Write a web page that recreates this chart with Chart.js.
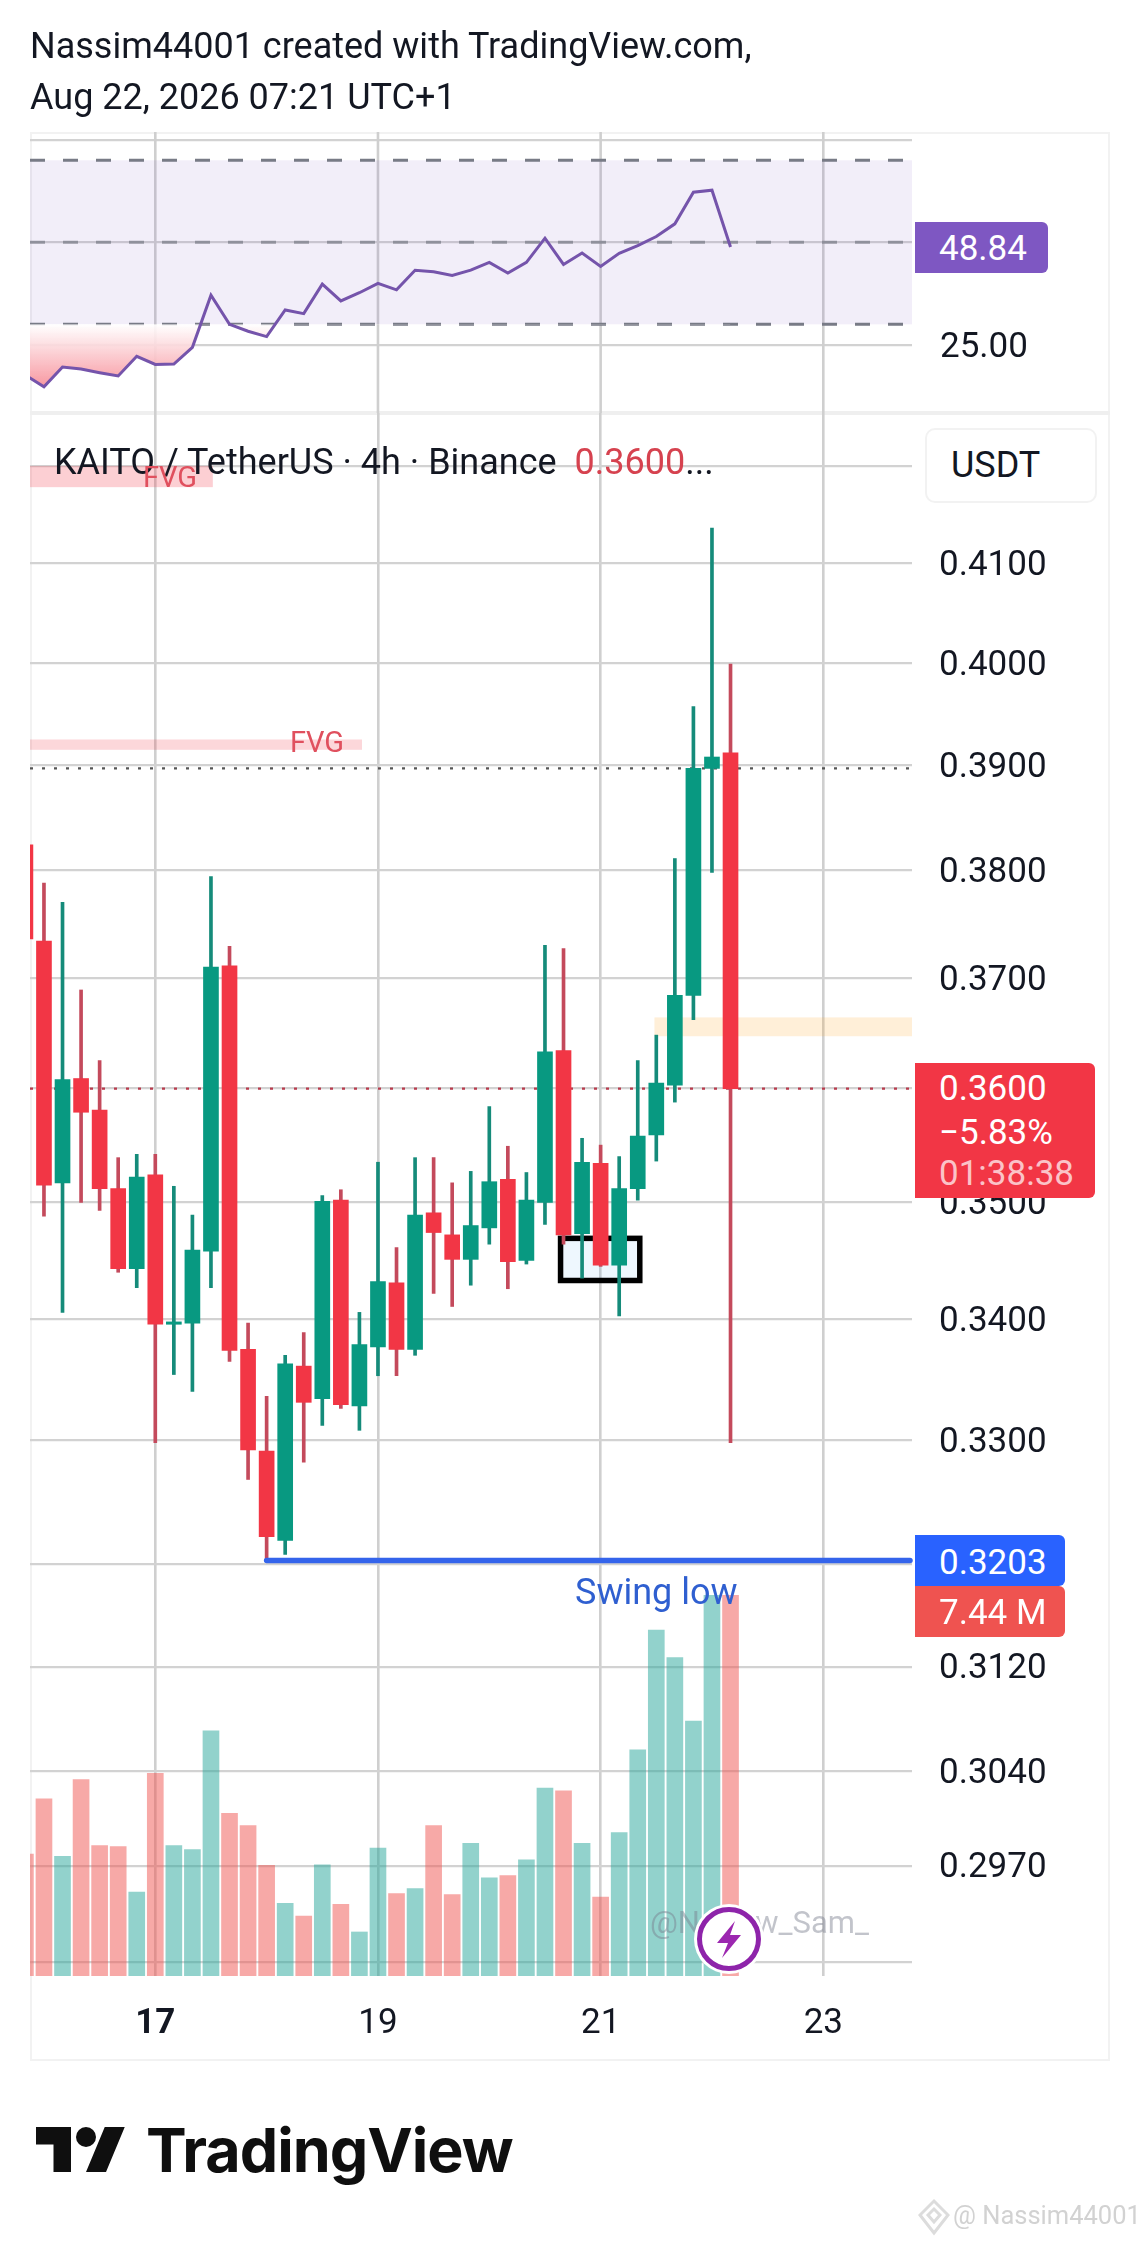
<!DOCTYPE html>
<html><head><meta charset="utf-8">
<script src="https://cdn.jsdelivr.net/npm/chart.js@4"></script>
<style>
html,body{margin:0;padding:0;background:#fff;width:1140px;height:2241px;overflow:hidden}
canvas{position:absolute;left:0;top:0}
.t{position:absolute;transform:translateY(-50%);white-space:nowrap;font-family:Roboto,sans-serif;font-size:36px;color:#131722;line-height:1}
.box{position:absolute;box-sizing:border-box}
.tag{position:absolute;box-sizing:border-box;border-radius:0 6px 6px 0;color:#fff;font-family:Roboto,sans-serif;font-size:35px}
.tag span{position:absolute;left:24px;transform:translateY(-50%);white-space:nowrap;line-height:1}
</style></head><body>
<div class="box" style="left:30px;top:132px;width:1080px;height:1929px;border:2px solid #f2f2f2"></div>
<div class="box" style="left:30px;top:411px;width:1080px;height:4px;background:#efefef"></div>
<canvas id="main" width="1140" height="2241"></canvas>
<canvas id="rsi" width="1140" height="462"></canvas>

<div class="t" style="left:30px;top:46px">Nassim44001 created with TradingView.com,</div>
<div class="t" style="left:30px;top:97px">Aug 22, 2026 07:21 UTC+1</div>
<div class="t" style="left:54px;top:462px">KAITO / TetherUS · 4h · Binance&nbsp; <span style="color:#d6424f">0.3600</span>...</div>
<div class="t" style="left:143px;top:477px;font-size:29px;color:#e0505e">FVG</div>
<div class="t" style="left:290px;top:742px;font-size:29px;color:#e0505e">FVG</div>
<div class="t" style="left:575px;top:1592px;color:#2f5fd0">Swing low</div>

<div class="box" style="left:925px;top:428px;width:172px;height:75px;border:2px solid #f2f2f2;border-radius:10px;background:#fff"></div>
<div class="t" style="left:951px;top:465px">USDT</div>

<div class="tag" style="left:915px;top:222px;width:133px;height:51px;background:#7e57c2"><span style="top:26px">48.84</span></div>
<div class="tag" style="left:915px;top:1063px;width:180px;height:135px;background:#f23645"><span style="top:25px">0.3600</span><span style="top:69px">−5.83%</span><span style="top:110px;color:#fbc3c8">01:38:38</span></div>
<div class="tag" style="left:915px;top:1535px;width:150px;height:51px;background:#2962ff"><span style="top:27px">0.3203</span></div>
<div class="tag" style="left:915px;top:1586px;width:150px;height:51px;background:#ef5350"><span style="top:26px">7.44 M</span></div>

<div class="t" style="left:650px;top:1922px;font-size:31px;color:rgba(120,125,140,.45)">@Narrow_Sam_</div>
<svg style="position:absolute;left:693px;top:1903px" width="72" height="72" viewBox="0 0 72 72">
<circle cx="36" cy="36" r="35" fill="#fff"/>
<circle cx="36" cy="36" r="29.5" fill="#fff" stroke="#8e24aa" stroke-width="5"/>
<path d="M42 18 L24 40 H35 L29 55 L48 32 H37 Z" fill="#9c27b0"/></svg>

<svg style="position:absolute;left:36px;top:2127px" width="90" height="45" viewBox="0 4 36 18"><path d="M14 22H7V11H0V4h14v18zM28 22h-8l7.5-18h8L28 22z" fill="#0f0f0f"/><circle cx="20" cy="8" r="4" fill="#0f0f0f"/></svg>
<div class="t" style="left:146px;top:2150px;font-family:Inter,Roboto,sans-serif;font-weight:700;font-size:61px;letter-spacing:-1px;color:#0f0f0f">TradingView</div>

<svg style="position:absolute;left:917px;top:2198px" width="34" height="38" viewBox="0 0 34 38"><path d="M17 3 L31 17 L17 35 L3 17 Z M17 11 L11 17 L17 24 L23 17 Z" fill="none" stroke="#dcdcdc" stroke-width="3"/></svg>
<div class="t" style="left:953px;top:2216px;font-size:25.5px;color:#d2d2d2">@ Nassim44001</div>

<script>
const xTicks=[7,19,31,43];
const xLabels=['17','19','21','23'];
const open =[.3824,.3734,.3517,.3609,.3581,.3512,.3443,.3524,.3396,.3397,.3458,.3711,.3375,.3291,.3219,.3361,.3334,.3502,.3328,.3377,.3431,.3375,.3491,.3472,.3451,.3478,.3520,.3450,.3500,.3634,.3473,.3534,.3446,.3512,.3559,.3603,.3684,.3897,.3912];
const close=[.3736,.3515,.3608,.3579,.3512,.3443,.3522,.3396,.3398,.3459,.3710,.3374,.3292,.3222,.3363,.3331,.3501,.3329,.3379,.3432,.3375,.3489,.3474,.3451,.3480,.3518,.3449,.3502,.3633,.3472,.3535,.3446,.3512,.3558,.3605,.3684,.3897,.3908,.3600];
const high =[.3824,.3788,.3770,.3689,.3625,.3539,.3542,.3542,.3514,.3489,.3794,.3729,.3397,.3336,.3370,.3389,.3506,.3511,.3406,.3535,.3461,.3539,.3539,.3517,.3527,.3584,.3549,.3526,.3730,.3727,.3556,.3550,.3540,.3625,.3648,.3811,.3957,.4136,.3999];
const low  =[.3736,.3488,.3406,.3500,.3493,.3440,.3427,.3298,.3354,.3340,.3427,.3365,.3268,.3203,.3208,.3282,.3312,.3326,.3308,.3353,.3353,.3370,.3422,.3411,.3429,.3464,.3426,.3447,.3481,.3464,.3435,.3445,.3403,.3502,.3536,.3588,.3662,.3798,.3298];
const volume=[2.38,3.46,2.34,3.84,2.55,2.53,1.64,3.96,2.55,2.47,4.79,3.18,2.94,2.16,1.42,1.17,2.17,1.40,.86,2.50,1.61,1.71,2.94,1.59,2.59,1.92,1.96,2.27,3.67,3.62,2.59,1.54,2.80,4.42,6.76,6.22,4.98,7.44,7.44];
const rsiValues=[17.6,14.75,19.6,19.1,18.2,17.4,22.2,20.2,20.3,24.4,37.1,30.0,28.3,27.0,33.5,32.6,39.8,35.7,37.7,40.0,38.4,43.2,42.8,41.9,43.2,45.1,42.5,45.1,51.0,44.6,47.4,44.1,47.3,49.2,51.4,54.5,62.2,62.7,48.84];
const priceTicks=[.42,.41,.40,.39,.38,.37,.36,.35,.34,.33,.32,.312,.304,.297,.29];
const priceLabels=['','0.4100','0.4000','0.3900','0.3800','0.3700','0.3600','0.3500','0.3400','0.3300','','0.3120','0.3040','0.2970',''];
const rsiTicks=[75,50,25];
const rsiLabels=['','','25.00'];
const rsiBands=[70,50,30];
const zones=[
 {x0:0,x1:10.1,hi:.4200,lo:.4178,fill:'rgba(242,54,69,.24)'},
 {x0:0,x1:18.14,hi:.3925,lo:.3915,fill:'rgba(242,54,69,.2)'},
 {x0:33.9,x1:48,hi:.3664,lo:.3647,fill:'rgba(255,167,38,.18)'},
 {x0:28.84,x1:33.11,hi:.3469,lo:.3433,fill:'rgba(33,150,243,.08)',stroke:'#000'}
];
const dotted=[{p:.3897,c:'#555'},{p:.36,c:'#b83a4c'}];
const swingLow={x0:13,p:.3203};

const UP='#089981',DOWN='#f23645',WUP='#158b7a',WDOWN='#c44a5c';
const idx=open.map((_,i)=>i);
const isUp=i=>close[i]>=open[i];
const XMIN=.2475,XMAX=47.78;
const fontTick={family:'Roboto',size:35};
const setXTicks=s=>{s.ticks=xTicks.map(v=>({value:v}));};
const xTickLabel=v=>{const k=xTicks.indexOf(v);return k<0?'':xLabels[k];};

const mainOverlay={id:'mainOverlay',beforeDatasetsDraw(c){
  const {ctx,chartArea:a,scales:{x,y}}=c;ctx.save();
  ctx.beginPath();ctx.rect(a.left,a.top,a.right-a.left,a.bottom-a.top);ctx.clip();
  zones.forEach(z=>{
    const l=x.getPixelForValue(z.x0),r=x.getPixelForValue(z.x1),t=y.getPixelForValue(z.hi),b=y.getPixelForValue(z.lo);
    ctx.fillStyle=z.fill;ctx.fillRect(l,t,r-l,b-t);
    if(z.stroke){ctx.strokeStyle=z.stroke;ctx.lineWidth=5.5;ctx.strokeRect(l,t,r-l,b-t);}
  });
  dotted.forEach(d=>{
    const py=y.getPixelForValue(d.p);
    ctx.strokeStyle=d.c;ctx.lineWidth=2.4;ctx.setLineDash([3,9]);
    ctx.beginPath();ctx.moveTo(a.left,py);ctx.lineTo(a.right,py);ctx.stroke();
  });
  ctx.restore();
},afterDatasetsDraw(c){
  const {ctx,chartArea:a,scales:{x,y}}=c;ctx.save();
  const py=y.getPixelForValue(swingLow.p);
  ctx.strokeStyle='#3464eb';ctx.lineWidth=5.5;ctx.lineCap='round';
  ctx.beginPath();ctx.moveTo(x.getPixelForValue(swingLow.x0),py);ctx.lineTo(a.right-2,py);ctx.stroke();
  ctx.restore();
}};

new Chart(document.getElementById('main'),{
 type:'bar',
 data:{labels:idx,datasets:[
  {label:'Volume',yAxisID:'vol',order:3,grouped:false,barThickness:16,
   data:idx.map(i=>({x:i,y:volume[i]})),
   backgroundColor:idx.map(i=>isUp(i)?'rgba(38,166,154,.5)':'rgba(239,83,80,.5)')},
  {label:'Wick',yAxisID:'y',order:2,grouped:false,barThickness:3,
   data:idx.map(i=>({x:i,y:[low[i],high[i]]})),
   backgroundColor:idx.map(i=>isUp(i)?WUP:WDOWN)},
  {label:'Body',yAxisID:'y',order:1,grouped:false,barThickness:15,
   data:idx.map(i=>({x:i,y:[open[i],close[i]]})),
   backgroundColor:idx.map(i=>isUp(i)?UP:DOWN)}
 ]},
 options:{responsive:false,animation:false,devicePixelRatio:1,events:[],
  layout:{padding:{left:30,top:413,right:0,bottom:0}},
  plugins:{legend:{display:false},tooltip:{enabled:false}},
  scales:{
   x:{type:'linear',min:XMIN,max:XMAX,offset:false,position:'bottom',
      afterBuildTicks:setXTicks,afterFit:s=>{s.height=265;},
      border:{display:false},
      grid:{offset:false,color:'#cfcfcf',lineWidth:2.6,drawTicks:false},
      ticks:{autoSkip:false,maxRotation:0,padding:27,color:'#131722',
        font:c=>({family:'Roboto',size:35,weight:c.tick&&c.tick.value===xTicks[0]?'bold':'normal'}),
        callback:xTickLabel}},
   y:{type:'logarithmic',position:'right',min:.2890,max:.42554,
      afterBuildTicks:s=>{s.ticks=priceTicks.map(v=>({value:v}));},
      afterFit:s=>{s.width=228;},
      border:{display:false},
      grid:{color:'#d2d2d2',lineWidth:2.3,drawTicks:false},
      ticks:{padding:27,labelOffset:3,color:'#131722',font:fontTick,autoSkip:false,
        callback:v=>{const k=priceTicks.indexOf(v);return k<0?'':priceLabels[k];}}},
   vol:{type:'linear',display:false,min:0,max:30.54}
  }},
 plugins:[mainOverlay]
});

const rsiOverlay={id:'rsiOverlay',beforeDatasetsDraw(c){
  const {ctx,chartArea:a,scales:{x,y}}=c;ctx.save();
  ctx.strokeStyle='#cfcfcf';ctx.lineWidth=2.6;
  xTicks.forEach(v=>{const px=x.getPixelForValue(v);ctx.beginPath();ctx.moveTo(px,a.top);ctx.lineTo(px,a.bottom);ctx.stroke();});
  const t=y.getPixelForValue(rsiBands[0]),b=y.getPixelForValue(rsiBands[2]);
  ctx.fillStyle='rgba(126,87,194,.1)';ctx.fillRect(a.left,t,a.right-a.left,b-t);
  ctx.lineWidth=3;ctx.setLineDash([15,18]);
  rsiBands.forEach(v=>{const py=y.getPixelForValue(v);ctx.strokeStyle=v===rsiBands[1]?'rgba(120,123,134,.7)':'#787b86';ctx.beginPath();ctx.moveTo(a.left,py);ctx.lineTo(a.right,py);ctx.stroke();});
  ctx.restore();
}};
const rsiChart=new Chart(document.getElementById('rsi'),{
 type:'line',
 data:{labels:idx,datasets:[{label:'RSI',data:idx.map(i=>({x:i,y:rsiValues[i]})),
   borderColor:'#7554ab',borderWidth:3,pointRadius:0,tension:0,
   fill:{target:{value:rsiBands[2]},above:'rgba(0,0,0,0)',below:'rgba(249,170,178,.8)'}}]},
 options:{responsive:false,animation:false,devicePixelRatio:1,events:[],
  layout:{padding:{left:30,top:132,right:0,bottom:0}},
  plugins:{legend:{display:false},tooltip:{enabled:false}},
  scales:{
   x:{type:'linear',min:XMIN,max:XMAX,display:false},
   y:{type:'linear',position:'right',min:8.37,max:76.9,
      afterBuildTicks:s=>{s.ticks=rsiTicks.map(v=>({value:v}));},
      afterFit:s=>{s.width=228;},
      border:{display:false},
      grid:{color:'#d2d2d2',lineWidth:2.3,drawTicks:false},
      ticks:{padding:28,labelOffset:3,color:'#131722',font:fontTick,
        callback:v=>{const k=rsiTicks.indexOf(v);return k<0?'':rsiLabels[k];}}}
  }},
 plugins:[rsiOverlay]
});
const ys=rsiChart.scales.y;
const g=rsiChart.ctx.createLinearGradient(0,ys.getPixelForValue(rsiBands[2]),0,ys.getPixelForValue(14));
g.addColorStop(0,'rgba(255,255,255,.9)');g.addColorStop(1,'rgba(247,140,150,.95)');
rsiChart.data.datasets[0].fill.below=g;rsiChart.update('none');
</script>
</body></html>
